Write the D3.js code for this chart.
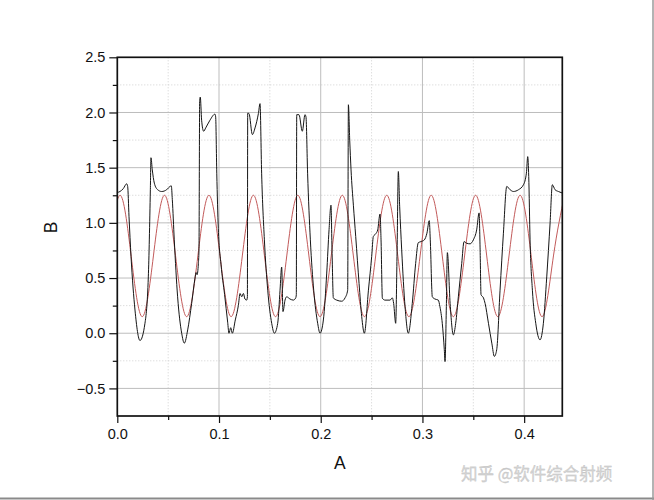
<!DOCTYPE html>
<html>
<head>
<meta charset="utf-8">
<script src="https://cdn.jsdelivr.net/npm/d3@7"></script>
<style>
  body { margin: 0; background: #fff; }
  svg { display: block; font-family: "Liberation Sans", Arial, sans-serif; }
</style>
</head>
<body>
<svg id="chart" width="654" height="500"></svg>
<script>
// axis ticks
var xMajor = [0, 0.1, 0.2, 0.3, 0.4];
var xMinor = [0.05, 0.15, 0.25, 0.35];
var yMajor = [-0.5, 0, 0.5, 1.0, 1.5, 2.0, 2.5];
var yMinor = [-0.25, 0.25, 0.75, 1.25, 1.75, 2.25];

// red reference wave: peaks, zero crossings and troughs
var redA = [-0.0082, 0.0027, 0.0136, 0.0245, 0.0355, 0.0464, 0.0573, 0.0682, 0.0792, 0.0901,
            0.1010, 0.1119, 0.1229, 0.1338, 0.1447, 0.1556, 0.1666, 0.1775, 0.1884, 0.1993,
            0.2103, 0.2212, 0.2321, 0.2430, 0.2540, 0.2649, 0.2758, 0.2867, 0.2977, 0.3086,
            0.3195, 0.3304, 0.3414, 0.3523, 0.3632, 0.3741, 0.3851, 0.3960, 0.4069, 0.4178,
            0.4288, 0.4397];
var redB = [0.70, 1.25, 0.70, 0.15, 0.70, 1.25, 0.70, 0.15, 0.70, 1.25,
            0.70, 0.15, 0.70, 1.25, 0.70, 0.15, 0.70, 1.25, 0.70, 0.15,
            0.70, 1.25, 0.70, 0.15, 0.70, 1.25, 0.70, 0.15, 0.70, 1.25,
            0.70, 0.15, 0.70, 1.25, 0.70, 0.15, 0.70, 1.25, 0.70, 0.15,
            0.70, 1.25];

// black measured trace [A, B]
var blackSeries = [
  [0.0000, 1.275], [0.0026, 1.284], [0.0059, 1.31], [0.0092, 1.354], [0.0102, 1.33],
  [0.0115, 1.06], [0.0135, 0.695], [0.0174, 0.21], [0.0223, -0.066], [0.0272, 0.09],
  [0.0305, 0.51], [0.0325, 1.30], [0.0331, 1.59], [0.0344, 1.48], [0.0364, 1.36],
  [0.0397, 1.30], [0.0436, 1.284], [0.0485, 1.30], [0.0518, 1.33], [0.0531, 1.335],
  [0.0541, 1.21], [0.0560, 0.846], [0.0593, 0.33], [0.0633, 0.0], [0.0659, -0.09],
  [0.0692, 0.03], [0.0731, 0.27], [0.0764, 0.50], [0.0774, 0.55], [0.0784, 0.53],
  [0.0797, 0.63], [0.0803, 0.755], [0.0810, 2.115], [0.0816, 2.139], [0.0829, 1.93],
  [0.0849, 1.83], [0.0869, 1.86], [0.0911, 1.93], [0.0960, 1.985], [0.0967, 1.96],
  [0.0978, 1.45], [0.0993, 0.95], [0.1020, 0.62], [0.1055, 0.35], [0.1085, 0.10],
  [0.1098, 0.0], [0.1115, 0.05], [0.1131, 0.0], [0.1160, 0.12], [0.1190, 0.25],
  [0.1207, 0.36], [0.1223, 0.33], [0.1240, 0.36], [0.1255, 0.31], [0.1272, 0.30],
  [0.1279, 0.33], [0.1282, 1.994], [0.1295, 1.99], [0.1328, 1.80], [0.1354, 1.86],
  [0.1387, 1.99], [0.1403, 2.08], [0.1419, 1.45], [0.1446, 0.846], [0.1479, 0.39],
  [0.1518, 0.09], [0.1544, 0.0], [0.1577, 0.09], [0.1600, 0.39], [0.1616, 0.60],
  [0.1629, 0.196], [0.1649, 0.30], [0.1665, 0.33], [0.1698, 0.31], [0.1731, 0.30],
  [0.1754, 0.32], [0.1760, 0.35], [0.1764, 1.98], [0.1786, 1.98], [0.1819, 1.83],
  [0.1845, 1.98], [0.1855, 1.96], [0.1871, 1.45], [0.1898, 0.846], [0.1931, 0.39],
  [0.1970, 0.09], [0.1993, 0.0], [0.2026, 0.12], [0.2059, 0.545], [0.2082, 0.94],
  [0.2101, 1.16], [0.2111, 0.755], [0.2124, 0.32], [0.2157, 0.30], [0.2206, 0.29],
  [0.2239, 0.32], [0.2265, 0.39], [0.2272, 2.07], [0.2285, 1.75], [0.2298, 1.48],
  [0.2321, 1.16], [0.2344, 0.876], [0.2377, 0.45], [0.2403, 0.15], [0.2429, 0.0],
  [0.2469, 0.39], [0.2501, 0.695], [0.2517, 0.876], [0.2540, 0.90], [0.2560, 0.936],
  [0.2583, 1.08], [0.2593, 0.846], [0.2606, 0.317], [0.2632, 0.30], [0.2681, 0.30],
  [0.2704, 0.32], [0.2717, 0.27], [0.2737, 0.09], [0.2750, 0.695], [0.2763, 1.465],
  [0.2776, 1.15], [0.2796, 0.755], [0.2829, 0.24], [0.2861, 0.0], [0.2900, 0.27],
  [0.2933, 0.63], [0.2959, 0.82], [0.2985, 0.83], [0.3018, 0.845], [0.3044, 0.906],
  [0.3067, 1.02], [0.3077, 0.846], [0.3097, 0.33], [0.3123, 0.31], [0.3156, 0.30],
  [0.3172, 0.24], [0.3195, 0.09], [0.3215, -0.15], [0.3222, -0.257], [0.3235, 0.24],
  [0.3245, 0.73], [0.3272, 0.27], [0.3304, -0.015], [0.3327, 0.09], [0.3353, 0.33],
  [0.3386, 0.63], [0.3409, 0.83], [0.3435, 0.815], [0.3468, 0.81], [0.3500, 0.845],
  [0.3533, 0.936], [0.3557, 1.09], [0.3567, 0.755], [0.3576, 0.35], [0.3600, 0.32],
  [0.3616, 0.27], [0.3649, 0.09], [0.3682, -0.09], [0.3707, -0.21], [0.3730, -0.15],
  [0.3763, 0.39], [0.3796, 0.906], [0.3829, 1.33], [0.3862, 1.30], [0.3894, 1.284],
  [0.3944, 1.30], [0.3993, 1.345], [0.4022, 1.45], [0.4035, 1.60], [0.4045, 1.42],
  [0.4058, 0.846], [0.4081, 0.39], [0.4114, 0.09], [0.4156, -0.06], [0.4189, 0.09],
  [0.4222, 0.51], [0.4255, 1.0], [0.4277, 1.345], [0.4304, 1.30], [0.4337, 1.284],
  [0.4375, 1.27]
];

(function() {
  var svg = d3.select("#chart");
  var pl = 117.3, pr = 562.3, pt = 57.3, pb = 416;

  var x = d3.scaleLinear().domain([0, 0.4375]).range([pl, pr]);
  var y = d3.scaleLinear().domain([-0.75, 2.5]).range([pb, pt]);

  // grid: dotted minor, solid major
  var grid = svg.append("g");
  grid.selectAll("line.xmin").data(xMinor).enter().append("line")
    .attr("x1", x).attr("x2", x).attr("y1", pt).attr("y2", pb)
    .attr("stroke", "#cfcfcf").attr("stroke-dasharray", "1,2");
  grid.selectAll("line.ymin").data(yMinor).enter().append("line")
    .attr("x1", pl).attr("x2", pr).attr("y1", y).attr("y2", y)
    .attr("stroke", "#cfcfcf").attr("stroke-dasharray", "1,2");
  grid.selectAll("line.xmaj").data(xMajor.filter(function(d) { return d > 0; })).enter().append("line")
    .attr("x1", x).attr("x2", x).attr("y1", pt).attr("y2", pb)
    .attr("stroke", "#bdbdbd");
  grid.selectAll("line.ymaj").data(yMajor.filter(function(d) { return d < 2.5; })).enter().append("line")
    .attr("x1", pl).attr("x2", pr).attr("y1", y).attr("y2", y)
    .attr("stroke", "#bdbdbd");

  svg.append("clipPath").attr("id", "plot")
    .append("rect").attr("x", pl).attr("y", pt)
    .attr("width", pr - pl).attr("height", pb - pt);

  var plot = svg.append("g").attr("clip-path", "url(#plot)");

  var redLine = d3.line()
    .x(function(d, i) { return x(redA[i]); })
    .y(function(d, i) { return y(redB[i]); })
    .curve(d3.curveNatural);

  plot.append("path")
    .datum(redA)
    .attr("d", redLine)
    .attr("fill", "none")
    .attr("stroke", "#c25a5a")
    .attr("stroke-width", 1);

  var blackLine = d3.line()
    .x(function(d) { return x(d[0]); })
    .y(function(d) { return y(d[1]); })
    .curve(d3.curveMonotoneX);

  plot.append("path")
    .datum(blackSeries)
    .attr("d", blackLine)
    .attr("fill", "none")
    .attr("stroke", "#151515")
    .attr("stroke-width", 1);

  // axes, Origin style: ticks out on left and bottom only
  var fmt = d3.format(".1f");

  function noDomain(g) { g.select(".domain").remove(); }

  svg.append("g").attr("transform", "translate(0," + pb + ")")
    .call(d3.axisBottom(x).tickValues(xMinor).tickSize(4).tickFormat(""))
    .call(noDomain);
  svg.append("g").attr("transform", "translate(0," + pb + ")")
    .call(d3.axisBottom(x).tickValues(xMajor).tickSize(7).tickPadding(6).tickFormat(fmt))
    .call(noDomain);

  svg.append("g").attr("transform", "translate(" + pl + ",0)")
    .call(d3.axisLeft(y).tickValues(yMinor).tickSize(4.5).tickFormat(""))
    .call(noDomain);
  svg.append("g").attr("transform", "translate(" + pl + ",0)")
    .call(d3.axisLeft(y).tickValues(yMajor).tickSize(8).tickPadding(4).tickFormat(fmt))
    .call(noDomain);

  svg.selectAll(".tick line").attr("stroke", "#111").attr("stroke-width", 1.2);
  svg.selectAll(".tick text")
    .attr("font-family", "Liberation Sans, Arial, sans-serif")
    .attr("font-size", 14.5)
    .attr("fill", "#111");

  svg.append("rect")
    .attr("x", pl).attr("y", pt)
    .attr("width", pr - pl).attr("height", pb - pt)
    .attr("fill", "none").attr("stroke", "#111").attr("stroke-width", 1.7);

  svg.append("text")
    .attr("x", (pl + pr) / 2).attr("y", 469)
    .attr("text-anchor", "middle")
    .attr("font-size", 17.5)
    .attr("fill", "#111")
    .text("A");

  svg.append("text")
    .attr("transform", "translate(57,227.5) rotate(-90)")
    .attr("text-anchor", "middle")
    .attr("font-size", 17.5)
    .attr("fill", "#111")
    .text("B");

  // watermark
  svg.append("text")
    .attr("x", 461).attr("y", 480)
    .attr("font-family", "Noto Sans CJK SC")
    .attr("font-size", 16.5)
    .attr("fill", "#d6d6d6")
    .attr("stroke", "#bdbdbd").attr("stroke-width", 0.3)
    .text("知乎 @软件综合射频");

  svg.append("line").attr("x1", 0).attr("x2", 654).attr("y1", 498.5).attr("y2", 498.5)
    .attr("stroke", "#8a8a8a").attr("stroke-width", 2);
  svg.append("line").attr("x1", 653).attr("x2", 653).attr("y1", 0).attr("y2", 500)
    .attr("stroke", "#9a9a9a").attr("stroke-width", 1.5);
})();
</script>
</body>
</html>
